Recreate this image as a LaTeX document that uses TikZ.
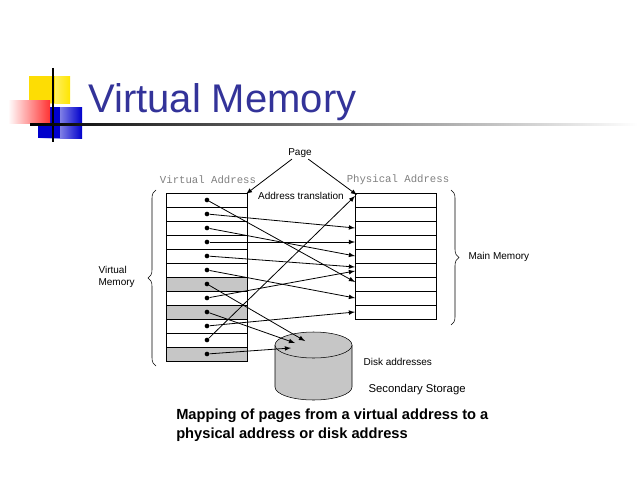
\documentclass[tikz,border=0pt]{standalone}
\usepackage{fontspec}
\setmainfont{Liberation Sans}
\newfontfamily\cour{Liberation Mono}
\usetikzlibrary{decorations.pathreplacing,shapes.geometric,calc}
\definecolor{titleblue}{RGB}{51,51,153}
\tikzset{
  lbl/.style={font=\fontsize{7.5}{9}\selectfont, inner sep=1pt},
  addr/.style={font=\cour\fontsize{8}{9}\selectfont, text=gray},
  map/.style={-latex, semithick},
  dot/.style={circle, fill=black, inner sep=0pt, minimum size=3.5pt}
}
\begin{document}
\begin{tikzpicture}[x=0.75pt,y=-0.75pt]
	\useasboundingbox (0,0) rectangle (638,478);
	%logo
		\shade[left color=white, right color=yellow!80!orange] (29,76) rectangle (70,103);
		\fill[yellow!80!orange] (29,76) rectangle (55,103);
		\shade[left color=white, right color=blue!80!black] (38,107) rectangle (82,138);
		\fill[blue!80!black] (38,107) rectangle (60,138);
		\shade[left color=white, right color=red!80] (8,100) rectangle (50,123);
		\draw[thick] (53,68) -- (53,142);
		\shade[left color=black, right color=white, middle color=gray] (30,123.3) rectangle (638,125);
	%title
		\node[anchor=base west, text=titleblue, font=\fontsize{30}{32}\selectfont, inner sep=0pt] (title) at (88,112) {Virtual Memory};
	%virtual table
		\foreach \i in {0,...,11} {
			\coordinate (vr\i) at (166,{193+14*\i});
			\coordinate (vd\i) at (207,{200+14*\i});
		}
		\foreach \i in {6,8,11}
			\fill[gray!45] (166,{193+14*\i}) rectangle (247,{207+14*\i});
		\foreach \i in {0,...,11}
			\draw (166,{193+14*\i}) rectangle (247,{207+14*\i});
	%physical table
		\foreach \i in {0,...,8} {
			\draw (355,{193+14*\i}) rectangle (436,{207+14*\i});
			\coordinate (p\i) at (355,{200+14*\i});
		}
	%disk
		\fill[gray!45] (275,345) -- (275,387) arc[start angle=180, end angle=0, x radius=38.5, y radius=13] -- (352,345) -- cycle;
		\draw (275,345) -- (275,387) arc[start angle=180, end angle=0, x radius=38.5, y radius=13] -- (352,345);
		\draw[fill=gray!45] (313.5,345) ellipse[x radius=38.5, y radius=13];
		\coordinate (d1) at (305,341);
		\coordinate (d2) at (295,343);
		\coordinate (d3) at (291,348);
	%mappings
		\foreach \i in {0,...,11}
			\node[dot] (v\i) at (vd\i) {};
		\draw[map] (v0) -- ($(p6)+(0,-2)$);
		\draw[map] (v1) -- (p2);
		\draw[map] (v2) -- (p4);
		\draw[map] (v3) -- (p3);
		\draw[map] (v4) -- ($(p5)+(0,-3)$);
		\draw[map] (v5) -- (p7);
		\draw[map] (v6) -- (d1);
		\draw[map] (v7) -- ($(p5)+(0,1)$);
		\draw[map] (v8) -- (d2);
		\draw[map] (v9) -- (p8);
		\draw[map] (v10) -- ($(p0)+(0,-4)$);
		\draw[map] (v11) -- (d3);
	%labels
		\node[lbl] (page) at (300,153) {Page};
		\draw[map] (page) -- (246,194);
		\draw[map] (page) -- (357,195);
		\node[addr] (va) at (208,180) {Virtual Address};
		\node[addr] (pa) at (398,180) {Physical Address};
		\node[lbl] (at) at (301,196) {Address translation};
		\node[lbl, anchor=west] (da) at (362,362) {Disk addresses};
		\node[lbl, anchor=west, font=\fontsize{8.5}{10}\selectfont] (ss) at (367,390) {Secondary Storage};
		\node[lbl, anchor=west] (mm) at (467,257) {Main Memory};
		\node[lbl, anchor=west, align=left] (vm) at (97,277) {Virtual\\Memory};
	%braces
		\draw[decorate, decoration={brace, amplitude=6pt}] (156,366) -- (156,190);
		\draw[decorate, decoration={brace, amplitude=6pt}] (451,190) -- (451,325);
	%caption
		\node[anchor=west, align=left, font=\bfseries\fontsize{11}{14}\selectfont, inner sep=0pt] (cap) at (176,425) {Mapping of pages from a virtual address to a\\physical address or disk address};
\end{tikzpicture}
\end{document}
